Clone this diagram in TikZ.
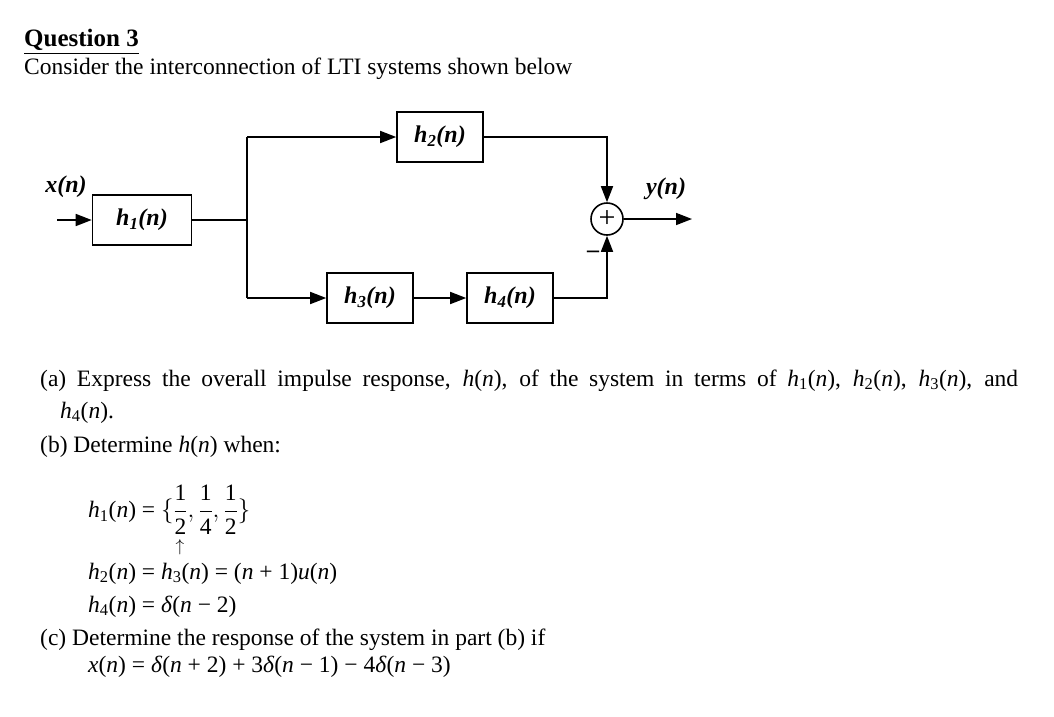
\documentclass[tikz,border=0pt]{standalone}
\usepackage{amsmath}
\usepackage{fontspec}
\setmainfont{Liberation Serif}
\usetikzlibrary{arrows.meta}
\begin{document}
\begin{tikzpicture}[x=1pt,y=-1pt,
  blk/.style={draw,line width=1.6pt,minimum width=86pt,minimum height=50pt,inner sep=0pt,font=\fontsize{24}{26}\selectfont\bfseries\itshape},
  sig/.style={line width=1.6pt},
  arr/.style={sig,-{Triangle[length=16pt,width=12pt]}},
  txt/.style={anchor=base west,inner sep=0pt,font=\fontsize{23.5}{26}\selectfont}]
\useasboundingbox (0,0) rectangle (1054,716);
\fill[white] (0,0) rectangle (1054,716);
% header
\node[txt,font=\fontsize{25}{28}\selectfont\bfseries] (q) at (24,46) {\underline{Question 3}};
\node[txt] (c) at (24,74) {Consider the interconnection of LTI systems shown below};
% diagram
\node[blk,minimum width=99pt] (h1) at (142,220) {h\textsubscript{1}(n)};
\node[blk] (h2) at (440,137) {h\textsubscript{2}(n)};
\node[blk] (h3) at (370,298) {h\textsubscript{3}(n)};
\node[blk] (h4) at (510,298) {h\textsubscript{4}(n)};
\node[draw,circle,line width=1.6pt,minimum size=32pt,inner sep=0pt,font=\fontsize{30}{30}\selectfont] (s) at (607,219) {+};
\coordinate (in) at (57,220);
\coordinate (j) at (247,220);
\coordinate (jt) at (247,137);
\coordinate (jb) at (247,298);
\coordinate (out) at (692,219);
\draw[arr] (in) -- (h1);
\draw[sig] (h1) -- (j);
\draw[sig] (jb) -- (jt);
\draw[arr] (jt) -- (h2);
\draw[arr] (jb) -- (h3);
\draw[arr] (h3) -- (h4);
\draw[arr] (h2.east) -| (s.north);
\draw[arr] (h4.east) -| (s.south);
\draw[arr] (s) -- (out);
\node[font=\fontsize{24}{26}\selectfont\bfseries\itshape] (xl) at (66,187) {x(n)};
\node[font=\fontsize{24}{26}\selectfont\bfseries\itshape] (yl) at (666,189) {y(n)};
\node[font=\fontsize{24}{26}\selectfont\bfseries] (mn) at (593,254) {--};
% questions
\node[txt] (a1) at (40,386) {\makebox[978pt][s]{(a) Express the overall impulse response, \textit{h}(\textit{n}), of the system in terms of \textit{h}\textsubscript{1}(\textit{n}), \textit{h}\textsubscript{2}(\textit{n}), \textit{h}\textsubscript{3}(\textit{n}), and}};
\node[txt] (a2) at (60,418) {\textit{h}\textsubscript{4}(\textit{n}).};
\node[txt] (b1) at (40,452) {(b) Determine \textit{h}(\textit{n}) when:};
\node[txt,anchor=west] (e1) at (88,510) {\textit{h}\textsubscript{1}(\textit{n}) = $\displaystyle\{\frac{\text{1}}{\text{2}},\frac{\text{1}}{\text{4}},\frac{\text{1}}{\text{2}}\}$};
\node[font=\fontsize{16}{16}\selectfont] (up) at (180,547) {$\uparrow$};
\node[txt] (e2) at (88,579) {\textit{h}\textsubscript{2}(\textit{n}) = \textit{h}\textsubscript{3}(\textit{n}) = (\textit{n} + 1)\textit{u}(\textit{n})};
\node[txt] (e3) at (88,612) {\textit{h}\textsubscript{4}(\textit{n}) = \textit{δ}(\textit{n} − 2)};
\node[txt] (c1) at (40,645) {(c) Determine the response of the system in part (b) if};
\node[txt] (c2) at (88,672) {\textit{x}(\textit{n}) = \textit{δ}(\textit{n} + 2) + 3\textit{δ}(\textit{n} − 1) − 4\textit{δ}(\textit{n} − 3)};
\end{tikzpicture}
\end{document}
